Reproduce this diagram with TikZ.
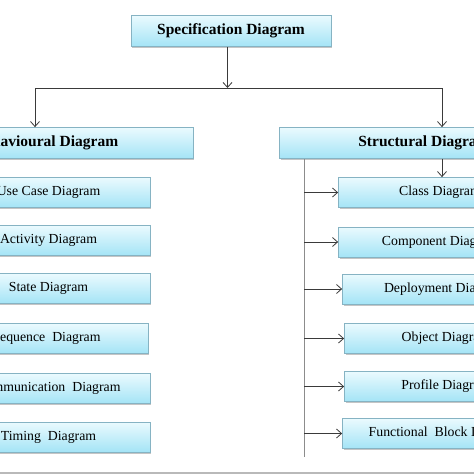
\documentclass[tikz,border=0pt]{standalone}
\usepackage{fontspec}
\setmainfont{Liberation Serif}
\usetikzlibrary{arrows.meta,shadows,calc}
\definecolor{boxtop}{HTML}{EAFAFE}
\definecolor{boxbot}{HTML}{A4E4F6}
\definecolor{boxline}{HTML}{86B3C3}
\definecolor{arrowc}{HTML}{3A3A3A}
\definecolor{trunkc}{HTML}{8C8C8C}
\begin{document}
\begin{tikzpicture}[x=1pt,y=-1pt,
  diabox/.style={draw=boxline,line width=0.8pt,top color=boxtop,bottom color=boxbot,
    drop shadow={shadow xshift=1.2pt,shadow yshift=-1.8pt,opacity=0.45,fill=gray},
    inner sep=0pt,anchor=center},
  headbox/.style={diabox,minimum height=31pt,font=\fontsize{15.5}{17}\selectfont\bfseries},
  subbox/.style={diabox,minimum width=203pt,minimum height=30pt,font=\fontsize{13.8}{15}\selectfont},
  conn/.style={draw=arrowc,line width=0.8pt,-{Straight Barb[length=5pt,width=9pt]}},
  trunkline/.style={draw=trunkc,line width=1pt}]
\useasboundingbox (0,0) rectangle (474,474);
\begin{scope}
\clip (0,0) rectangle (474,474);
\fill[white] (0,0) rectangle (474,474);
\fill[gray!55] (0,472) rectangle (474,474);

\node[headbox,minimum width=200pt] (spec) at (231,31) {Specification Diagram};
\node[headbox,minimum width=293pt] (beh) at (46.5,143) {Behavioural Diagram};
\node[headbox,minimum width=289pt] (str) at (424,143) {Structural Diagram};

\node[subbox] (uc)  at (48.5,192.5) {Use Case Diagram};
\node[subbox] (act) at (48.5,240.5) {Activity Diagram};
\node[subbox] (st)  at (48.5,288.5) {State Diagram};
\node[subbox] (seq) at (46.5,338.5) {Sequence\ \ Diagram};
\node[subbox] (com) at (48.5,388.5) {Communication\ \ Diagram};
\node[subbox] (tim) at (48.5,437) {Timing\ \ Diagram};

\node[subbox] (cls) at (440,192.5) {Class Diagram};
\node[subbox] (cmp) at (440,242) {Component Diagram};
\node[subbox] (dep) at (444,289) {Deployment Diagram};
\node[subbox] (obj) at (446,338.5) {Object Diagram};
\node[subbox] (pro) at (446,386.5) {Profile Diagram};
\node[subbox] (fun) at (444,433.5) {Functional\ \ Block Diagram};

\coordinate (hub) at (227.5,88);
\coordinate (hl) at (35,88);
\coordinate (hr) at (442,88);
\coordinate (ttop) at (304,159);
\coordinate (tbot) at (304,457);

\draw[conn] (spec.south -| hub) -- (hub);
\draw[draw=arrowc,line width=0.8pt] (hl) -- (hr);
\draw[conn] (hl) -- (hl |- beh.north);
\draw[conn] (hr) -- (hr |- str.north);
\draw[conn] (hr |- str.south) -- (hr |- cls.north);
\draw[trunkline] (ttop) -- (tbot);
\foreach \b in {cls,cmp,dep,obj,pro,fun}{
  \draw[conn] (ttop |- \b.west) -- (\b.west);
}
\end{scope}
\end{tikzpicture}
\end{document}
